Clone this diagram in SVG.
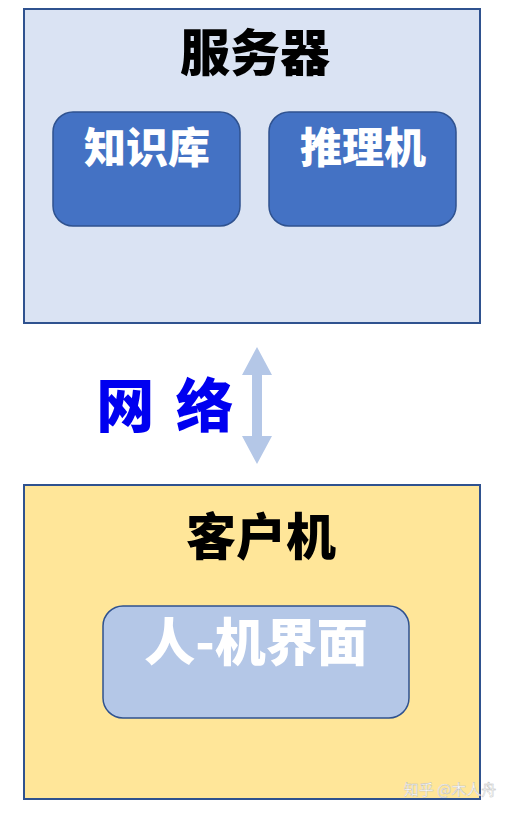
<svg xmlns="http://www.w3.org/2000/svg" width="511" height="814" viewBox="0 0 511 814">
<style>
.cjk{font-family:"Noto Sans CJK SC","Noto Sans",sans-serif;font-weight:900;text-anchor:middle}
.title{font-size:50px;fill:#000}
.inner{font-size:42px;fill:#fff}
.frame{stroke:#2f528f;stroke-width:2}
.box{stroke:#2f528f;stroke-width:1.5}
</style>
<rect width="511" height="814" fill="#fff"/>
<g id="server">
<rect class="frame" x="24" y="9" width="456" height="314" fill="#dae3f3"/>
<text class="cjk title" x="255" y="71">服务器</text>
</g>
<g id="knowledge">
<rect class="box" x="53" y="112" width="187" height="114" rx="20" fill="#4472c4"/>
<text class="cjk inner" x="147" y="163">知识库</text>
</g>
<g id="inference">
<rect class="box" x="269" y="112" width="187" height="114" rx="20" fill="#4472c4"/>
<text class="cjk inner" x="363" y="163">推理机</text>
</g>
<g id="connectors">
<polygon points="257,347 272,375 262,375 262,436 272,436 257,464 242,436 252,436 252,375 242,375" fill="#b4c7e7"/>
</g>
<g id="network-label">
<text x="165" y="427" font-family="'Noto Sans CJK SC',sans-serif" font-weight="900" font-size="58" fill="#0000f0" text-anchor="middle" word-spacing="8">网 络</text>
</g>
<g id="client">
<rect class="frame" x="24" y="485" width="456" height="314" fill="#ffe699"/>
<text class="cjk title" x="261" y="555">客户机</text>
</g>
<g id="hmi">
<rect class="box" x="103" y="606" width="306" height="112" rx="20" fill="#b4c7e7"/>
<text class="cjk" x="256" y="661" font-size="51" fill="#fff">人-机界面</text>
</g>
<text x="450" y="795" font-family="'Noto Sans CJK SC',sans-serif" font-size="15" fill="#fff" stroke="#bbb" stroke-width="0.4" text-anchor="middle">知乎 @木人舟</text>
</svg>
